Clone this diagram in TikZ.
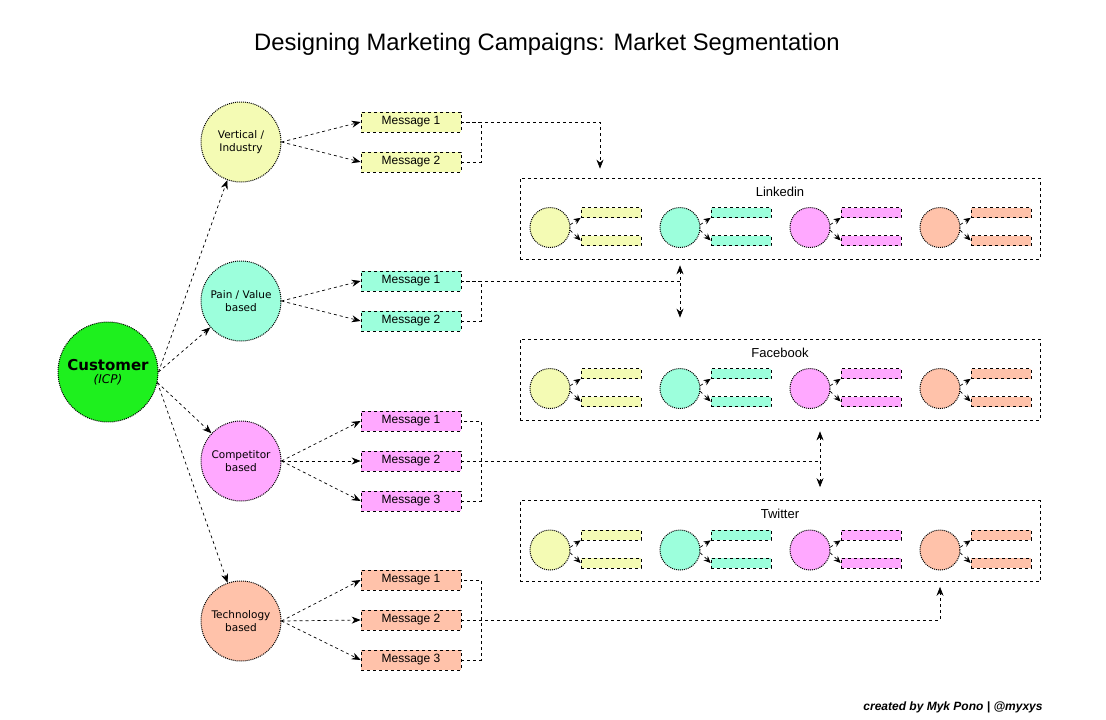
\documentclass[tikz,border=0pt]{standalone}
\usepackage{fontspec}
\setmainfont{Liberation Sans}
\newfontfamily\comicfont{DejaVu Sans}
\usepackage{tikz}
\usetikzlibrary{arrows.meta,positioning,calc}

\definecolor{custcol}{HTML}{1EF01E}
\definecolor{vertcol}{HTML}{F4FBB4}
\definecolor{paincol}{HTML}{9CFFDC}
\definecolor{compcol}{HTML}{FFA8FF}
\definecolor{techcol}{HTML}{FFC2AA}

\tikzset{
  seg/.style={circle, draw, densely dotted, line width=1pt, minimum size=80pt, inner sep=0pt, align=center, font=\comicfont\fontsize{10.5}{13}\selectfont},
  msg/.style={rectangle, draw, dashed, line width=0.7pt, minimum width=100pt, minimum height=20pt, inner sep=0pt, font=\fontsize{12}{14}\selectfont},
  panel/.style={rectangle, draw, dashed, line width=0.7pt, minimum width=520pt, minimum height=81pt},
  dot/.style={circle, draw, densely dotted, line width=1pt, minimum size=40pt, inner sep=0pt},
  bar/.style={rectangle, draw, dashed, line width=0.7pt, minimum width=60pt, minimum height=10pt, inner sep=0pt},
  link/.style={dashed, line width=0.7pt},
  dash arrow/.style={dashed, line width=0.7pt, -{Stealth[length=9pt,width=7pt]}},
  both arrow/.style={dashed, line width=0.7pt, {Stealth[length=9pt,width=7pt]}-{Stealth[length=9pt,width=7pt]}},
  small arrow/.style={dashed, line width=0.7pt, -{Stealth[length=7pt,width=6pt]}},
}

\begin{document}
\begin{tikzpicture}[x=1pt, y=-1pt, every node/.style={font=\fontsize{12}{14}\selectfont}]

\useasboundingbox (0,0) rectangle (1106,720);

\node (title) at (547,44) {\fontsize{23.8}{28}\selectfont Designing Marketing Campaigns: Market Segmentation};

% Left side: customer and segments

\node (cust) at (108,372) [circle, draw, densely dotted, line width=1pt, fill=custcol, minimum size=100pt, align=center]
  {\comicfont\fontsize{15}{18}\selectfont\bfseries Customer\\[-1pt] \comicfont\fontsize{12}{14}\selectfont\itshape (ICP)};

\node (vert) at (241,142) [seg, fill=vertcol] {Vertical /\\Industry};
\node (pain) at (241,301) [seg, fill=paincol] {Pain / Value\\based};
\node (comp) at (241,461) [seg, fill=compcol] {Competitor\\based};
\node (tech) at (241,621) [seg, fill=techcol] {Technology\\based};

\draw[dash arrow] (cust.east) -- (vert);
\draw[dash arrow] (cust.east) -- (pain);
\draw[dash arrow] (cust.-12) -- (comp);
\draw[dash arrow] (cust.-12) -- (tech);

% Messages per segment

\node (vm1) at (411,122) [msg, fill=vertcol] {Message 1};
\node (vm2) at (411,162) [msg, fill=vertcol] {Message 2};

\node (pm1) at (411,281) [msg, fill=paincol] {Message 1};
\node (pm2) at (411,321) [msg, fill=paincol] {Message 2};

\node (cm1) at (411,421) [msg, fill=compcol] {Message 1};
\node (cm2) at (411,461) [msg, fill=compcol] {Message 2};
\node (cm3) at (411,501) [msg, fill=compcol] {Message 3};

\node (tm1) at (411,580) [msg, fill=techcol] {Message 1};
\node (tm2) at (411,620) [msg, fill=techcol] {Message 2};
\node (tm3) at (411,660) [msg, fill=techcol] {Message 3};

\draw[dash arrow] (vert.east) -- (vm1.west);
\draw[dash arrow] (vert.east) -- (vm2.west);
\draw[dash arrow] (pain.east) -- (pm1.west);
\draw[dash arrow] (pain.east) -- (pm2.west);
\draw[dash arrow] (comp.east) -- (cm1.west);
\draw[dash arrow] (comp.east) -- (cm2.west);
\draw[dash arrow] (comp.east) -- (cm3.west);
\draw[dash arrow] (tech.east) -- (tm1.west);
\draw[dash arrow] (tech.east) -- (tm2.west);
\draw[dash arrow] (tech.east) -- (tm3.west);

% Right side: channels

\node (linkedin) at (780,218.5) [panel] {};
\node (facebook) at (780,379.5) [panel] {};
\node (twitter)  at (780,541)   [panel] {};

\node (lin-label) at ($(linkedin.north)+(0,14)$) {\fontsize{13}{15}\selectfont Linkedin};
\node (fb-label)  at ($(facebook.north)+(0,14)$) {\fontsize{13}{15}\selectfont Facebook};
\node (tw-label)  at ($(twitter.north)+(0,14)$)  {\fontsize{13}{15}\selectfont Twitter};

\foreach \p in {linkedin,facebook,twitter}{
  \foreach \c [count=\i from 0] in {vertcol,paincol,compcol,techcol}{
    \node (\p-c\i) at ($(\p.center)+(-230+130*\i,9)$) [dot, fill=\c] {};
    \node (\p-a\i) at ($(\p-c\i)+(61,-15)$) [bar, fill=\c] {};
    \node (\p-b\i) at ($(\p-c\i)+(61,13)$) [bar, fill=\c] {};
    \draw[small arrow] (\p-c\i.8) -- (\p-a\i.south west);
    \draw[small arrow] (\p-c\i.-8) -- (\p-b\i.west);
  }
}

% Message lines into the channels

\coordinate (vert-in) at ($(linkedin.north)+(-180,0)$);
\draw[link] (vm2.east) -- ++(20,0) |- (vm1.east);
\draw[dash arrow, shorten >=9pt] (vm1.east) -| (vert-in);

\coordinate (pain-hit) at ($(linkedin.south)+(-100,0)$);
\coordinate (pain-up) at ($(linkedin.south)+(-100,6)$);
\coordinate (pain-down) at ($(facebook.north)+(-100,-21)$);
\draw[link] (pm2.east) -- ++(20,0) |- (pm1.east);
\draw[link] (pm1.east) -- (pm1.east -| pain-hit);
\draw[both arrow] (pain-up) -- (pain-down);

\coordinate (comp-hit) at ($(facebook.south)+(40,0)$);
\coordinate (comp-up) at ($(facebook.south)+(40,11)$);
\coordinate (comp-down) at ($(twitter.north)+(40,-13)$);
\draw[link] (cm3.east) -- ++(20,0) |- (cm1.east);
\draw[link] (cm2.east) -- (cm2.east -| comp-hit);
\draw[both arrow] (comp-up) -- (comp-down);

\coordinate (tech-in) at ($(twitter.south)+(160,0)$);
\draw[link] (tm3.east) -- ++(20,0) |- (tm1.east);
\draw[dash arrow, shorten >=5pt] (tm2.east) -| (tech-in);

\node (credit) at (953,707) {\bfseries\itshape created by Myk Pono | @myxys};

\end{tikzpicture}
\end{document}
